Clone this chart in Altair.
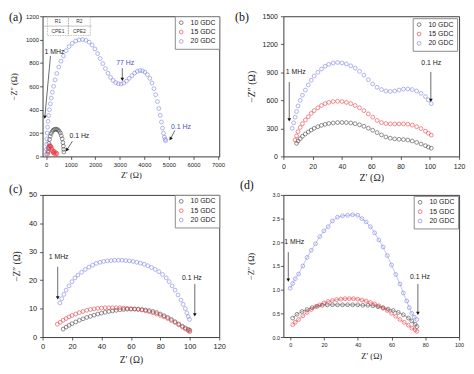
import altair as alt
import pandas as pd

# ---------------- data ----------------
series_names = ["10 GDC", "15 GDC", "20 GDC"]
series_colors = ["#3a3a3a", "#e8323c", "#7478e0"]

# panel (a)
a10_x = [75, 90, 110, 135, 165, 200, 240, 285, 330, 380, 430, 480, 530, 575, 615, 650, 680, 700, 712, 718]
a10_y = [35, 75, 112, 145, 173, 196, 213, 225, 231, 233, 232, 227, 216, 200, 177, 150, 118, 88, 60, 38]
a15_x = [55, 70, 90, 110, 130, 150, 170, 190, 210, 230, 250, 270, 290, 310, 330, 350, 380, 410, 440]
a15_y = [20, 45, 65, 80, 88, 92, 90, 84, 75, 62, 50, 40, 30, 45, 25, 38, 20, 30, 22]
a20_x = [5, 10, 18, 28, 40, 55, 75, 100, 130, 165, 205, 250, 300, 360, 430, 510, 600, 700, 810, 930,
         1060, 1200, 1340, 1480, 1620, 1750, 1870, 1985, 2095, 2200, 2305, 2410, 2515, 2620, 2725, 2830,
         2940, 3050, 3160, 3270, 3380, 3490, 3600, 3710, 3820, 3920, 4020, 4120, 4220, 4310, 4390, 4460,
         4530, 4590, 4645, 4695, 4740, 4780, 4815, 4845, 4870]
a20_y = [20, 60, 105, 150, 200, 250, 300, 350, 400, 450, 500, 550, 600, 655, 710, 765, 815, 860, 905, 940,
         968, 988, 998, 1000, 994, 978, 953, 920, 880, 838, 795, 752, 712, 677, 650, 632,
         622, 620, 628, 645, 668, 692, 713, 728, 735, 733, 722, 700, 668, 628, 580, 528,
         470, 410, 352, 295, 242, 198, 165, 145, 135]

# panel (b)
b10_x = [9, 10, 11.5, 13, 15, 17, 19, 21, 23.5, 26, 28.5, 31, 34, 37, 40, 43, 46, 49, 52, 55, 58, 61, 64,
         67, 70, 73, 76, 79, 82, 85, 88, 91, 94, 97, 99, 101]
b10_y = [140, 165, 190, 215, 240, 262, 282, 300, 318, 332, 343, 352, 358, 362, 363, 362, 358, 350, 338, 322,
         302, 280, 255, 230, 208, 195, 187, 183, 180, 175, 165, 150, 133, 115, 100, 88]
b15_x = [8, 9, 10, 11.5, 13, 15, 17, 19, 21, 23.5, 26, 28.5, 31, 34, 37, 40, 43, 46, 49, 52, 55, 58, 61, 64,
         67, 70, 73, 76, 79, 82, 85, 88, 91, 94, 97, 99, 101]
b15_y = [175, 220, 265, 310, 350, 390, 425, 460, 490, 520, 545, 565, 578, 587, 590, 587, 578, 565, 545, 520,
         490, 455, 420, 385, 362, 352, 348, 347, 348, 348, 345, 335, 318, 298, 270, 248, 228]
b20_x = [6, 7, 8, 9, 10, 11.5, 13, 15, 17, 19, 21, 23.5, 26, 28.5, 31, 34, 37, 40, 43, 46, 49, 52, 55, 58,
         61, 64, 67, 70, 73, 76, 79, 82, 85, 88, 91, 94, 97, 99, 101]
b20_y = [300, 360, 420, 480, 540, 600, 655, 710, 765, 815, 860, 900, 935, 965, 985, 1000, 1005, 1000, 990,
         970, 945, 910, 870, 820, 775, 740, 715, 700, 695, 700, 710, 720, 722, 715, 700, 675, 640, 605, 565]

# panel (c)
c10_x = [14, 16, 18, 20, 22.5, 25, 27.5, 30, 32.5, 35, 37.5, 40, 42.5, 45, 47.5, 50, 52.5, 55, 57.5, 60,
         62.5, 65, 67.5, 70, 72.5, 75, 77.5, 80, 82.5, 85, 87.5, 90, 92.5, 95, 97, 99, 100]
c10_y = [2.8, 3.5, 4.1, 4.7, 5.3, 5.9, 6.4, 6.9, 7.3, 7.7, 8.1, 8.4, 8.7, 9.0, 9.2, 9.4, 9.6, 9.7, 9.8, 9.8,
         9.8, 9.8, 9.7, 9.5, 9.3, 9.0, 8.6, 8.1, 7.5, 6.9, 6.2, 5.4, 4.6, 3.8, 3.2, 2.7, 2.4]
c15_x = [10, 12, 14, 16, 18, 20, 22.5, 25, 27.5, 30, 32.5, 35, 37.5, 40, 42.5, 45, 47.5, 50, 52.5, 55,
         57.5, 60, 62.5, 65, 67.5, 70, 72.5, 75, 77.5, 80, 82.5, 85, 87.5, 90, 92.5, 95, 97, 99, 100]
c15_y = [4.5, 5.2, 5.9, 6.5, 7.1, 7.6, 8.1, 8.6, 9.0, 9.4, 9.7, 9.9, 10.1, 10.2, 10.3, 10.3, 10.3, 10.3,
         10.3, 10.2, 10.1, 10.0, 9.9, 9.7, 9.5, 9.2, 8.9, 8.5, 8.1, 7.6, 7.1, 6.5, 5.8, 5.1, 4.3, 3.5, 2.8,
         2.2, 1.9]
c20_x = [11.8, 13, 14.5, 16, 18, 20, 22, 24, 26.5, 29, 31.5, 34, 36.5, 39, 41.5, 44, 46.5, 49, 51.5, 54,
         56.5, 59, 61.5, 64, 66.5, 69, 71.5, 74, 76.5, 79, 81.5, 84, 86, 88, 90, 92, 94, 95.5, 97, 98, 99, 99.8]
c20_y = [12, 13.5, 15, 16.5, 18, 19.5, 20.8, 21.8, 22.8, 23.8, 24.6, 25.3, 25.9, 26.3, 26.6, 26.8, 26.9, 27,
         27, 27, 26.9, 26.8, 26.6, 26.3, 26, 25.6, 25.1, 24.5, 23.8, 23, 22, 20.8, 19.5, 18, 16.5, 14.8, 13,
         11.5, 10, 8.5, 7.2, 6.2]

# panel (d)
d10_x = [1.5, 4, 7, 10, 13, 16, 19, 22, 25, 28, 31, 34, 37, 40, 43, 46, 49, 52, 55, 58, 61, 64, 67, 70, 72, 74, 75]
d10_y = [0.40, 0.48, 0.54, 0.58, 0.62, 0.65, 0.67, 0.68, 0.68, 0.68, 0.68, 0.68, 0.68, 0.68, 0.67, 0.67,
         0.66, 0.64, 0.62, 0.59, 0.56, 0.52, 0.47, 0.40, 0.34, 0.27, 0.22]
d15_x = [1.5, 3, 5, 7.5, 10, 12.5, 15, 17.5, 20, 22.5, 25, 27.5, 30, 32.5, 35, 37.5, 40, 42.5, 45, 47.5,
         50, 52.5, 55, 57.5, 60, 62.5, 65, 67.5, 70, 72, 74, 75]
d15_y = [0.26, 0.31, 0.37, 0.45, 0.52, 0.58, 0.64, 0.68, 0.72, 0.75, 0.77, 0.79, 0.80, 0.81, 0.81, 0.81,
         0.80, 0.78, 0.76, 0.73, 0.70, 0.66, 0.61, 0.56, 0.50, 0.44, 0.37, 0.31, 0.25, 0.19, 0.15, 0.12]
d20_x = [0, 1.5, 3, 5, 7.5, 10, 12.5, 15, 17.5, 20, 22.5, 25, 28, 31, 34, 37, 40, 42.5, 45, 47.5, 50,
         52.5, 55, 57.5, 60, 62.5, 65, 67, 69, 70.5, 72, 73.5, 75]
d20_y = [1.03, 1.13, 1.23, 1.33, 1.50, 1.68, 1.83, 1.97, 2.12, 2.24, 2.33, 2.45, 2.53, 2.56, 2.57, 2.58,
         2.57, 2.50, 2.43, 2.33, 2.20, 2.05, 1.90, 1.72, 1.52, 1.32, 1.12, 0.93, 0.76, 0.62, 0.50, 0.42, 0.37]

# annotations: text (x, y, label, colour, align) and arrows (x1, y1, x2, y2, angle)
a_txt = [(-70, 890, "1 MHz", "#222222", "left"), (3216, 800, "77 Hz", "#4a52c0", "center"),
         (5490, 255, "0.1 Hz", "#4a52c0", "center"), (1350, 175, "0.1 Hz", "#222222", "center")]
a_arr = [(174, 860, -57, 335, 5), (3100, 755, 3100, 660, 0), (5243, 222, 5060, 150, 34), (1066, 130, 840, 55, 34)]
b_txt = [(8.4, 908, "1 MHz", "#222222", "center"), (101, 1003, "0.1 Hz", "#222222", "center")]
b_arr = [(4, 795, 4, 390, 0), (100.7, 905, 100.7, 600, 0)]
c_txt = [(10.9, 28.1, "1 MHz", "#222222", "center"), (101.4, 20.8, "0.1 Hz", "#222222", "center")]
c_arr = [(10.3, 24.7, 10.3, 13.8, 0), (103.4, 18.7, 103.4, 7.8, 0)]
d_txt = [(2.4, 2.0, "1 MHz", "#222222", "center"), (76.8, 1.27, "0.1 Hz", "#222222", "center")]
d_arr = [(-1.1, 1.79, -1.1, 1.2, 0), (75.6, 1.12, 75.6, 0.5, 0)]

# equivalent-circuit inset of panel (a)
inset_boxes = [(53, 904, 1035, 1197), (904, 1796, 1035, 1197)]
inset_labels = [(478, 1160, "R1"), (478, 1072, "CPE1"), (1350, 1160, "R2"), (1350, 1072, "CPE2")]
inset_wire = [(-120, 1116, 1850, 1116)]

SANS = "Liberation Sans"
SERIF = "Liberation Serif"


def series_df(xs, ys):
    rows = []
    for name, xv, yv in zip(series_names, xs, ys):
        for a, b in zip(xv, yv):
            rows.append({"zr": a, "zi": b, "series": name})
    return pd.DataFrame(rows)


def panel(df, xdom, ydom, xticks, yticks, w, h, ax, txt, arr, tag, tag_xy, leg_off,
          yfmt="d", extra=None, lines=False, note_fs=7):
    xs = alt.Scale(domain=xdom, nice=False, zero=False)
    ys = alt.Scale(domain=ydom, nice=False, zero=False)
    xaxis = alt.Axis(values=xticks, title="Z′ (Ω)", format="d", labelFontSize=ax["lfs"],
                     titleFontSize=ax["tfs"], labelPadding=ax["xlp"], titlePadding=ax["xtp"],
                     labelFont=SANS, titleFont=SERIF, labelOverlap=False, labelFlush=False,
                     labelBound=False, tickCount=len(xticks))
    yaxis = alt.Axis(values=yticks, title="−Z″ (Ω)", format=yfmt, labelFontSize=ax["lfs"],
                     titleFontSize=ax["tfs"], labelPadding=ax["ylp"], titlePadding=ax["ytp"],
                     labelFont=SANS, titleFont=SERIF, labelOverlap=False, labelFlush=False,
                     labelBound=False, tickCount=len(yticks))
    X = alt.X("zr:Q", scale=xs, axis=xaxis)
    Y = alt.Y("zi:Q", scale=ys, axis=yaxis)
    X2 = alt.X2("zr2:Q")
    Y2 = alt.Y2("zi2:Q")
    color = alt.Color("series:N", scale=alt.Scale(domain=series_names, range=series_colors),
                      legend=alt.Legend(title=None, orient="top-right", offset=leg_off, padding=3,
                                        strokeColor="#8a8a8a", fillColor="white", labelFont=SANS,
                                        labelFontSize=7, labelColor="#222", symbolSize=14,
                                        symbolStrokeWidth=0.9, symbolType="circle", rowPadding=0.5,
                                        labelOffset=6))
    layers = []
    if lines:
        layers.append(alt.Chart(df).mark_line(strokeWidth=0.6, opacity=0.7).encode(
            x=X, y=Y, color=color, detail="series:N"))
    layers.append(alt.Chart(df).mark_point(shape="circle", filled=False, size=15, strokeWidth=0.8).encode(
        x=X, y=Y, color=color))
    if extra is not None:
        for kind, edf, kw in extra:
            if kind == "rect":
                layers.append(alt.Chart(edf).mark_rect(**kw).encode(x=X, x2=X2, y=Y, y2=Y2))
            elif kind == "rule":
                layers.append(alt.Chart(edf).mark_rule(**kw).encode(x=X, x2=X2, y=Y, y2=Y2))
            else:
                layers.append(alt.Chart(edf).mark_text(**kw).encode(x=X, y=Y, text="lab:N"))
    adf = pd.DataFrame(arr, columns=["zr", "zi", "zr2", "zi2", "ang"])
    layers.append(alt.Chart(adf).mark_rule(color="#444", strokeWidth=0.8).encode(
        x=X, y=Y, x2=X2, y2=Y2))
    hdf = adf[["zr2", "zi2", "ang"]].rename(columns={"zr2": "zr", "zi2": "zi"})
    layers.append(alt.Chart(hdf).mark_point(shape="triangle-down", filled=True, size=14, color="#111",
                                            opacity=1).encode(
        x=X, y=Y, angle=alt.Angle("ang:Q", scale=None)))
    for (tx, ty, lab, col, al) in txt:
        tdf = pd.DataFrame({"zr": [tx], "zi": [ty], "lab": [lab]})
        layers.append(alt.Chart(tdf).mark_text(font=SANS, fontSize=note_fs, color=col, align=al,
                                               baseline="middle").encode(
            x=X, y=Y, text="lab:N"))
    layers.append(alt.Chart(pd.DataFrame({"t": [tag]})).mark_text(
        font=SERIF, fontSize=12, align="left", baseline="top", color="#111").encode(
        text="t:N", x=alt.value(tag_xy[0]), y=alt.value(tag_xy[1])))
    return alt.layer(*layers).properties(width=w, height=h)


# inset layers for panel (a)
box_df = pd.DataFrame(inset_boxes, columns=["zr", "zr2", "zi", "zi2"])
lab_df = pd.DataFrame(inset_labels, columns=["zr", "zi", "lab"])
wire_df = pd.DataFrame(inset_wire, columns=["zr", "zi", "zr2", "zi2"])
inset = [
    ("rect", box_df, dict(fillOpacity=0, stroke="#9a9a9a", strokeWidth=0.6, strokeDash=[1.5, 1])),
    ("rule", wire_df, dict(color="#9a9a9a", strokeWidth=0.6)),
    ("text", lab_df, dict(font=SANS, fontSize=5, color="#333")),
]

ax_a = {"lfs": 6, "tfs": 8.5, "xlp": 2, "xtp": 3, "ylp": 1, "ytp": 7}
ax_b = {"lfs": 7, "tfs": 10, "xlp": 3, "xtp": 3, "ylp": 3, "ytp": 6}
ax_c = {"lfs": 7.5, "tfs": 9.5, "xlp": 3, "xtp": 4, "ylp": 3, "ytp": 7}
ax_d = {"lfs": 5.5, "tfs": 8.5, "xlp": 3, "xtp": 3, "ylp": 1, "ytp": 17}

pa = panel(series_df([a10_x, a15_x, a20_x], [a10_y, a15_y, a20_y]), [-150, 7050], [0, 1200],
           [0, 1000, 2000, 3000, 4000, 5000, 6000, 7000], [0, 200, 400, 600, 800, 1000, 1200],
           179, 142, ax_a, a_txt, a_arr, "(a)", (-34, -4), 0, extra=inset, note_fs=7)
pb = panel(series_df([b10_x, b15_x, b20_x], [b10_y, b15_y, b20_y]), [0, 120], [0, 1500],
           [0, 20, 40, 60, 80, 100, 120], [0, 300, 600, 900, 1200, 1500],
           178, 142, ax_b, b_txt, b_arr, "(b)", (-49, -4), 2)
pc = panel(series_df([c10_x, c15_x, c20_x], [c10_y, c15_y, c20_y]), [0, 120], [0, 50],
           [0, 20, 40, 60, 80, 100, 120], [0, 10, 20, 30, 40, 50],
           179, 144, ax_c, c_txt, c_arr, "(c)", (-34, -11), 0)
pd_ = panel(series_df([d10_x, d15_x, d20_x], [d10_y, d15_y, d20_y]), [-4, 100], [0, 3],
            [0, 20, 40, 60, 80, 100], [0, 0.5, 1.0, 1.5, 2.0, 2.5, 3.0],
            178, 144, ax_d, d_txt, d_arr, "(d)", (-44, -15), 1, yfmt=".1f", lines=True)

chart = alt.concat(pa, pb, pc, pd_, columns=2, spacing={"row": 39, "column": 65}, bounds="flush",
                   padding=0).resolve_scale(color="independent").configure_view(
    stroke="#3c3c3c", strokeWidth=1).configure_axis(
    grid=False, domain=False, tickSize=3, tickWidth=0.8, tickColor="#333",
    labelColor="#222", titleColor="#222", titleFontWeight="normal",
    labelOverlap=False, labelFlush=False, labelBound=False)

chart.save("out.html", embed_options={"renderer": "svg", "actions": False})
